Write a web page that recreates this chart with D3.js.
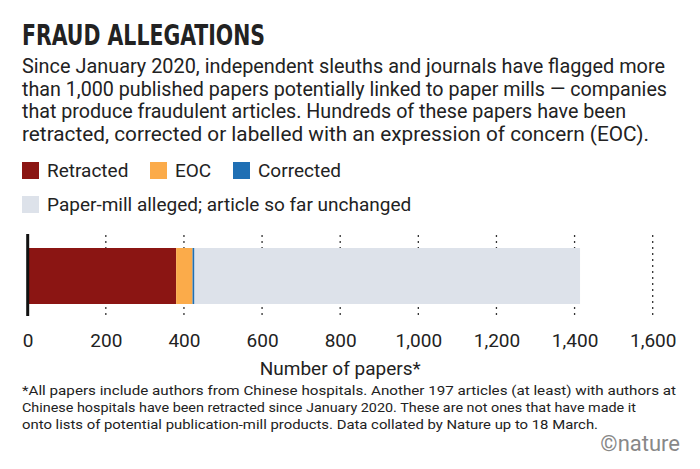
<!DOCTYPE html><html><head><meta charset="utf-8">
<script src="https://cdn.jsdelivr.net/npm/d3@7"></script>
<style>body{margin:0;background:#fff;font-family:Roboto,sans-serif}</style></head><body>
<svg id="c" width="700" height="469"></svg>
<script>
const categories=["Retracted","EOC","Corrected","Paper-mill alleged; article so far unchanged"];
const values=[380,42,5,987];
const colors=["#8b1513","#fbab4a","#1f6fb4","#dde2ea"];
const tickValues=[0,200,400,600,800,1000,1200,1400,1600];
const svg=d3.select("#c");
svg.append("text").attr("x",22).attr("y",45).attr("font-family","'DejaVu Sans Condensed',Roboto").attr("font-weight","bold").attr("font-size",29).attr("fill","#222").attr("textLength",243).attr("lengthAdjust","spacingAndGlyphs").text("FRAUD ALLEGATIONS");
const sub=["Since January 2020, independent sleuths and journals have flagged more","than 1,000 published papers potentially linked to paper mills — companies","that produce fraudulent articles. Hundreds of these papers have been","retracted, corrected or labelled with an expression of concern (EOC)."];
const subW=[643,645,604,627];
sub.forEach((s,i)=>svg.append("text").attr("x",22).attr("y",73+i*22.5).attr("font-size",19.5).attr("fill","#222").attr("textLength",subW[i]).attr("lengthAdjust","spacingAndGlyphs").text(s));
const leg=[[22,177,0],[150,177,1],[233,177,2],[22,211,3]];
leg.forEach(([x,y,i])=>{svg.append("rect").attr("x",x).attr("y",y-15).attr("width",17).attr("height",17).attr("fill",colors[i]);
svg.append("text").attr("x",x+25).attr("y",y).attr("font-size",19).attr("fill","#222").text(categories[i]);});
const x=d3.scaleLinear().domain([0,1600]).range([27.7,652.7]);
const g=svg.append("g");
tickValues.slice(1).forEach(t=>g.append("line").attr("x1",x(t)).attr("x2",x(t)).attr("y1",235).attr("y2",316).attr("stroke","#333").attr("stroke-width",1.3).attr("stroke-dasharray","2,4"));
let cum=0;
values.forEach((v,i)=>{g.append("rect").attr("x",x(cum)).attr("y",248).attr("width",x(cum+v)-x(cum)).attr("height",56).attr("fill",colors[i]);cum+=v;});
g.append("line").attr("x1",x(0)).attr("x2",x(0)).attr("y1",234).attr("y2",316).attr("stroke","#111").attr("stroke-width",3);
const ax=svg.append("g").attr("transform","translate(0,330)").call(d3.axisBottom(x).tickValues(tickValues).tickFormat(d3.format(",")).tickSize(0));
ax.select(".domain").remove();
ax.selectAll("text").attr("font-family","Roboto").attr("font-size",19).attr("fill","#222").attr("dy","0.71em");
svg.append("text").attr("x",x(800)).attr("y",375).attr("text-anchor","middle").attr("font-size",19).attr("fill","#222").text("Number of papers*");
const fn=["*All papers include authors from Chinese hospitals. Another 197 articles (at least) with authors at","Chinese hospitals have been retracted since January 2020. These are not ones that have made it","onto lists of potential publication-mill products. Data collated by Nature up to 18 March."];
const fnW=[654,614,576];
fn.forEach((s,i)=>svg.append("text").attr("x",22).attr("y",395+i*17).attr("font-size",13).attr("fill","#222").attr("textLength",fnW[i]).attr("lengthAdjust","spacingAndGlyphs").text(s));
svg.append("text").attr("x",680).attr("y",451).attr("text-anchor","end").attr("font-size",22).attr("fill","#888").text("©nature");
</script></body></html>
